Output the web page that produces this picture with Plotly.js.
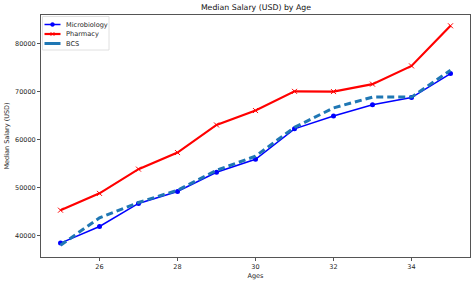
<!DOCTYPE html>
<html><head><meta charset="utf-8">
<script src="https://cdn.plot.ly/plotly-3.0.1.min.js"></script>
<style>html,body{margin:0;padding:0;background:#fff}#c{width:474px;height:282px}</style>
</head><body><div id="c"></div>
<script>
const ages = [25, 26, 27, 28, 29, 30, 31, 32, 33, 34, 35];
const microbiology = [38500, 41950, 46750, 49250, 53250, 55950, 62300, 64950, 67300, 68800, 73800];
const pharmacy = [45350, 48850, 53900, 57350, 63100, 66100, 70100, 70050, 71600, 75400, 83750];
const bcs = [38050, 43750, 46950, 49500, 53650, 56600, 62600, 66650, 68900, 68900, 74500];
const xTicks = [26, 28, 30, 32, 34];
const yTicks = [40000, 50000, 60000, 70000, 80000];
const seriesNames = ['Microbiology', 'Pharmacy', 'BCS'];
const seriesColors = ['#0000ff', '#ff0000', '#1f77b4'];

const font = {family: 'DejaVu Sans', size: 6.5, color: '#262626'};
const traces = [
  {x: ages, y: microbiology, name: seriesNames[0], mode: 'lines+markers',
   line: {color: seriesColors[0], width: 1.5}, marker: {symbol: 'circle', size: 5, color: seriesColors[0]}},
  {x: ages, y: pharmacy, name: seriesNames[1], mode: 'lines+markers',
   line: {color: seriesColors[1], width: 2.2}, marker: {symbol: 'x-thin', size: 5, color: seriesColors[1], line: {color: seriesColors[1], width: 1}}},
  {x: ages, y: bcs, name: seriesNames[2], mode: 'lines',
   line: {color: seriesColors[2], width: 3, dash: '7px,4px'}}
];

// plot area in pixels, for a compact matplotlib-like legend
const L = 41, R = 470, T = 15, B = 257;
const px = v => (v - L) / (R - L);
const py = v => (B - v) / (B - T);
const shapes = [
  {type: 'rect', xref: 'paper', yref: 'paper', x0: px(42.5), x1: px(109), y0: py(16.5), y1: py(50),
   fillcolor: 'rgba(255,255,255,0.85)', line: {color: '#d8d8d8', width: 0.8}, layer: 'above'}
];
const annotations = [];
const rowsY = [24.5, 34, 43.5];
const lineW = [1.5, 2.2, 3];
seriesNames.forEach((n, i) => {
  const y = rowsY[i];
  shapes.push({type: 'line', xref: 'paper', yref: 'paper', x0: px(44.5), x1: px(60.5), y0: py(y), y1: py(y),
    line: {color: seriesColors[i], width: lineW[i]}, layer: 'above'});
  if (i === 0) {
    shapes.push({type: 'circle', xref: 'paper', yref: 'paper', x0: px(50.5), x1: px(54.5), y0: py(y + 2), y1: py(y - 2),
      fillcolor: seriesColors[i], line: {color: seriesColors[i], width: 0.5}, layer: 'above'});
  }
  if (i === 1) {
    shapes.push({type: 'line', xref: 'paper', yref: 'paper', x0: px(50.7), x1: px(54.3), y0: py(y - 1.8), y1: py(y + 1.8),
      line: {color: seriesColors[i], width: 1}, layer: 'above'});
    shapes.push({type: 'line', xref: 'paper', yref: 'paper', x0: px(50.7), x1: px(54.3), y0: py(y + 1.8), y1: py(y - 1.8),
      line: {color: seriesColors[i], width: 1}, layer: 'above'});
  }
  annotations.push({xref: 'paper', yref: 'paper', x: px(64), y: py(y), xanchor: 'left', yanchor: 'middle',
    text: n, showarrow: false, font: {family: 'DejaVu Sans', size: 6.6, color: '#262626'}});
});

const axisCommon = {showgrid: false, zeroline: false, showline: true, linecolor: '#555', linewidth: 1, mirror: true,
  ticks: 'outside', ticklen: 3, tickcolor: '#555', tickfont: font};
const layout = {
  width: 474, height: 282,
  margin: {l: L, r: 474 - R, t: T, b: 282 - B},
  paper_bgcolor: '#fff', plot_bgcolor: '#fff',
  font: font,
  title: {text: 'Median Salary (USD) by Age', font: {family: 'DejaVu Sans', size: 7.8, color: '#111'}, x: 0.54, xanchor: 'center', y: 0.985, yanchor: 'top'},
  xaxis: Object.assign({}, axisCommon, {range: [24.5, 35.5], tickvals: xTicks, ticktext: xTicks.map(String),
    title: {text: 'Ages', font: {family: 'DejaVu Sans', size: 6.5, color: '#262626'}, standoff: 3}}),
  yaxis: Object.assign({}, axisCommon, {range: [35600, 86000], tickvals: yTicks, ticktext: yTicks.map(String),
    title: {text: 'Median Salary (USD)', font: {family: 'DejaVu Sans', size: 6.5, color: '#262626'}, standoff: 4}}),
  showlegend: false,
  shapes: shapes,
  annotations: annotations
};
Plotly.newPlot('c', traces, layout, {staticPlot: true, displayModeBar: false});
</script></body></html>
